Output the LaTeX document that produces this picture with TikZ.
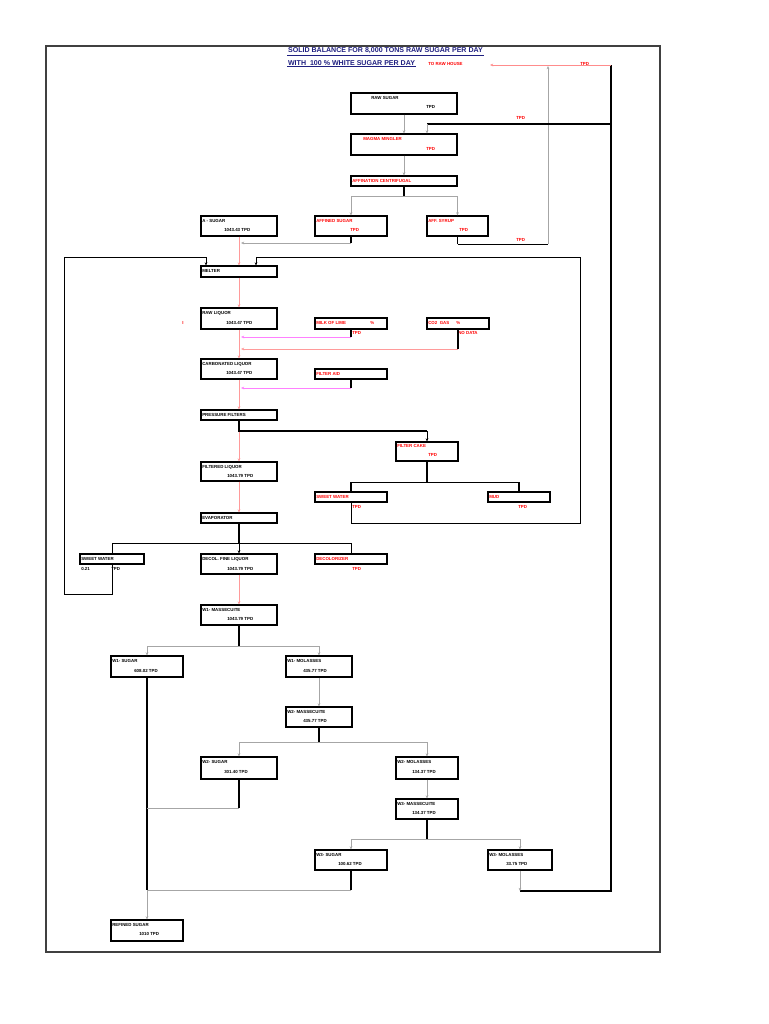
\documentclass[tikz,border=0pt]{standalone}
\usepackage{fontspec}
\setmainfont{Liberation Sans}
\usetikzlibrary{fit,arrows.meta}
\definecolor{navyt}{HTML}{1F1F80}
\definecolor{pinkl}{HTML}{FF9A9A}
\definecolor{magl}{HTML}{FF80FF}
\begin{document}
\begin{tikzpicture}[x=0.75pt,y=-0.75pt,
 box/.style={draw=black,line width=0.8pt,inner sep=0pt,fill=white},
 lbl/.style={font=\fontsize{3.3}{4}\selectfont\bfseries,inner sep=0pt,anchor=west},
 rlbl/.style={lbl,text=red},
 ttl/.style={font=\fontsize{5.3}{6}\selectfont\bfseries,text=navyt,inner sep=0.6pt,anchor=west},
 arr/.style={-{Stealth[length=2.4pt,width=2pt]}},
 gl/.style={draw=gray!70,line width=0.5pt},
 bl/.style={draw=black,line width=0.9pt},
 kl/.style={draw=black,line width=0.6pt},
 pl/.style={draw=pinkl,line width=0.6pt},
 ml/.style={draw=magl,line width=0.6pt}]
\useasboundingbox (0,0) rectangle (768,1024);
% frame
\draw[draw=black!75,line width=0.9pt] (46,46) rectangle (660,952);
% title
\node[ttl] (title1) at (287,51) {SOLID BALANCE FOR 8,000 TONS RAW SUGAR PER DAY};
\node[ttl] (title2) at (287,63) {WITH\ \ 100 \% WHITE SUGAR PER DAY};
\draw[navyt,line width=0.4pt] (title1.south west) -- (title1.south east);
\draw[navyt,line width=0.4pt] (title2.south west) -- (title2.south east);
\node[rlbl] (toraw) at (428,64) {TO RAW HOUSE};
\node[rlbl] (tpdtop) at (580,64) {TPD};
% boxes
\node[box,fit={(351,93)(457,114)}] (rawsugar) {};
\node[box,fit={(351,134)(457,155)}] (magma) {};
\node[box,fit={(351,176)(457,186)}] (affcent) {};
\node[box,fit={(201,216)(277,236)}] (asugar) {};
\node[box,fit={(315,216)(387,236)}] (affsugar) {};
\node[box,fit={(427,216)(488,236)}] (affsyrup) {};
\node[box,fit={(201,266)(277,277)}] (melter) {};
\node[box,fit={(201,308)(277,329)}] (rawliq) {};
\node[box,fit={(315,318)(387,329)}] (mol) {};
\node[box,fit={(427,318)(489,329)}] (co2) {};
\node[box,fit={(201,359)(277,379)}] (carbliq) {};
\node[box,fit={(315,369)(387,379)}] (filaid) {};
\node[box,fit={(201,410)(277,420)}] (pressf) {};
\node[box,fit={(396,442)(458,461)}] (fcake) {};
\node[box,fit={(201,462)(277,481)}] (filtliq) {};
\node[box,fit={(315,492)(387,502)}] (swater1) {};
\node[box,fit={(488,492)(550,502)}] (mud) {};
\node[box,fit={(201,513)(277,523)}] (evap) {};
\node[box,fit={(80,554)(144,564)}] (swater2) {};
\node[box,fit={(201,554)(277,574)}] (fineliq) {};
\node[box,fit={(315,554)(387,564)}] (decol) {};
\node[box,fit={(201,605)(277,625)}] (w1mass) {};
\node[box,fit={(111,656)(183,677)}] (w1sugar) {};
\node[box,fit={(286,656)(352,677)}] (w1mol) {};
\node[box,fit={(286,707)(352,727)}] (w2mass) {};
\node[box,fit={(201,757)(277,779)}] (w2sugar) {};
\node[box,fit={(396,757)(458,779)}] (w2mol) {};
\node[box,fit={(396,799)(458,819)}] (w3mass) {};
\node[box,fit={(315,850)(387,870)}] (w3sugar) {};
\node[box,fit={(488,850)(552,870)}] (w3mol) {};
\node[box,fit={(111,920)(183,941)}] (refined) {};
% labels
\node[lbl] (t1) at (371,98) {RAW SUGAR};
\node[lbl] (t2) at (426,107) {TPD};
\node[rlbl] (t3) at (363,139) {MAGMA MINGLER};
\node[rlbl] (t4) at (426,149) {TPD};
\node[rlbl] (t5) at (352,181) {AFFINATION CENTRIFUGAL};
\node[lbl] (t6) at (202,221) {A - SUGAR};
\node[lbl] (t7) at (224,230) {1043.43 TPD};
\node[rlbl] (t8) at (316,221) {AFFINED SUGAR};
\node[rlbl] (t9) at (350,230) {TPD};
\node[rlbl] (t10) at (428,221) {AFF. SYRUP};
\node[rlbl] (t11) at (459,230) {TPD};
\node[rlbl] (t12) at (516,240) {TPD};
\node[rlbl] (t13) at (516,118) {TPD};
\node[lbl] (t14) at (202,271) {MELTER};
\node[lbl] (t15) at (202,313) {RAW LIQUOR};
\node[lbl] (t16) at (226,323) {1043.47 TPD};
\node[rlbl] (t17) at (182,323) {I};
\node[rlbl] (t18) at (316,323) {MILK OF LIME};
\node[rlbl] (t19) at (370,323) {\%};
\node[rlbl] (t20) at (352,333) {TPD};
\node[rlbl] (t21) at (428,323) {CO2\ \ GAS};
\node[rlbl] (t22) at (456,323) {\%};
\node[rlbl] (t23) at (458,333) {NO DATA};
\node[lbl] (t24) at (202,364) {CARBONATED LIQUOR};
\node[lbl] (t25) at (226,373) {1043.47 TPD};
\node[rlbl] (t26) at (316,374) {FILTER AID};
\node[lbl] (t27) at (202,415) {PRESSURE FILTERS};
\node[rlbl] (t28) at (397,446) {FILTER CAKE};
\node[rlbl] (t29) at (428,455) {TPD};
\node[lbl] (t30) at (202,467) {FILTERED LIQUOR};
\node[lbl] (t31) at (227,476) {1043.79 TPD};
\node[rlbl] (t32) at (316,497) {SWEET WATER};
\node[rlbl] (t33) at (352,507) {TPD};
\node[rlbl] (t34) at (489,497) {MUD};
\node[rlbl] (t35) at (518,507) {TPD};
\node[lbl] (t36) at (202,518) {EVAPORATOR};
\node[lbl] (t37) at (81,559) {SWEET WATER};
\node[lbl] (t38) at (81,569) {0.21};
\node[lbl] (t39) at (111,569) {TPD};
\node[lbl] (t40) at (202,559) {DECOL. FINE LIQUOR};
\node[lbl] (t41) at (227,569) {1043.79 TPD};
\node[rlbl] (t42) at (316,559) {DECOLORIZER};
\node[rlbl] (t43) at (352,569) {TPD};
\node[lbl] (t44) at (202,610) {W1- MASSECUITE};
\node[lbl] (t45) at (227,619) {1043.79 TPD};
\node[lbl] (t46) at (112,661) {W1- SUGAR};
\node[lbl] (t47) at (134,671) {608.02 TPD};
\node[lbl] (t48) at (287,661) {W1- MOLASSES};
\node[lbl] (t49) at (303,671) {435.77 TPD};
\node[lbl] (t50) at (287,712) {W2- MASSECUITE};
\node[lbl] (t51) at (303,721) {435.77 TPD};
\node[lbl] (t52) at (202,762) {W2- SUGAR};
\node[lbl] (t53) at (224,772) {301.40 TPD};
\node[lbl] (t54) at (397,762) {W2- MOLASSES};
\node[lbl] (t55) at (412,772) {134.37 TPD};
\node[lbl] (t56) at (397,804) {W3- MASSECUITE};
\node[lbl] (t57) at (412,813) {134.37 TPD};
\node[lbl] (t58) at (316,855) {W3- SUGAR};
\node[lbl] (t59) at (338,864) {100.62 TPD};
\node[lbl] (t60) at (489,855) {W3- MOLASSES};
\node[lbl] (t61) at (506,864) {33.75 TPD};
\node[lbl] (t62) at (112,925) {REFINED SUGAR};
\node[lbl] (t63) at (139,934) {1010 TPD};
% ---- connectors ----
% raw sugar -> magma -> affination
\draw[gl,arr] (rawsugar.south) -- (magma.north);
\draw[gl,arr] (magma.south) -- (affcent.north);
\coordinate (ja) at (404,196);
\draw[bl] (affcent.south) -- (ja);
\draw[gl] (affsugar.north |- ja) -- (affsyrup.north |- ja);
\draw[gl,arr] (affsugar.north |- ja) -- (affsugar.north);
\draw[gl,arr] (affsyrup.north |- ja) -- (affsyrup.north);
% affined sugar to main line
\coordinate (jb) at (241,243);
\draw[bl] (affsugar.south) -- (affsugar.south |- jb);
\draw[gl,arr] (affsugar.south |- jb) -- (jb);
% aff syrup to raw house
\coordinate (jc) at (548,244);
\coordinate (jd) at (548,66);
\draw[bl] (affsyrup.south) -- (affsyrup.south |- jc);
\draw[kl] (affsyrup.south |- jc) -- (jc);
\draw[gl,arr] (jc) -- (jd);
% right return line
\coordinate (re1) at (611,891);
\coordinate (re2) at (611,124);
\coordinate (re3) at (611,65);
\coordinate (rh) at (490,65);
\coordinate (jm) at (427,124);
\draw[bl] (w3mol.south |- re1) -- (re1) -- (re3);
\draw[draw=red!45,line width=0.6pt,arr] (re3) -- (rh);
\draw[bl] (re2) -- (jm);
\draw[gl,arr] (jm) -- (jm |- magma.north);
% main pink line
\draw[pl,arr] (asugar.south) -- (melter.north);
\draw[pl,arr] (melter.south) -- (rawliq.north);
\draw[pl,arr] (rawliq.south) -- (carbliq.north);
\draw[pl,arr] (carbliq.south) -- (pressf.north);
\draw[pl,arr] (pressf.south) -- (filtliq.north);
\draw[pl,arr] (filtliq.south) -- (evap.north);
\draw[pl,arr] (fineliq.south) -- (w1mass.north);
% left loop (sweet water to melter)
\coordinate (l1) at (112,594);
\coordinate (l2) at (64,594);
\coordinate (l3) at (64,257);
\coordinate (l4) at (206,257);
\draw[kl] (swater2.south) -- (l1) -- (l2) -- (l3) -- (l4);
\draw[kl,arr] (l4) -- (l4 |- melter.north);
% right loop (sweet water from filter cake to melter)
\coordinate (r1) at (351,523);
\coordinate (r2) at (580,523);
\coordinate (r3) at (580,257);
\coordinate (r4) at (256,257);
\draw[kl] (swater1.south) -- (r1) -- (r2) -- (r3) -- (r4);
\draw[kl,arr] (r4) -- (r4 |- melter.north);
% lime, CO2, filter aid
\coordinate (jl) at (241,337);
\coordinate (jg) at (241,349);
\coordinate (jf) at (241,388);
\draw[bl] (mol.south) -- (mol.south |- jl);
\draw[ml,arr] (mol.south |- jl) -- (jl);
\draw[bl] (co2.south) -- (co2.south |- jg);
\draw[pl,arr] (co2.south |- jg) -- (jg);
\draw[bl] (filaid.south) -- (filaid.south |- jf);
\draw[ml,arr] (filaid.south |- jf) -- (jf);
% pressure filters to filter cake
\coordinate (jp) at (239,431);
\draw[bl] (pressf.south) -- (jp) -- (fcake.north |- jp);
\draw[kl,arr] (fcake.north |- jp) -- (fcake.north);
\coordinate (jk) at (427,482);
\draw[bl] (fcake.south) -- (jk);
\draw[kl] (swater1.north |- jk) -- (mud.north |- jk);
\draw[bl] (swater1.north |- jk) -- (swater1.north);
\draw[bl] (mud.north |- jk) -- (mud.north);
% evaporator split
\coordinate (je) at (239,543);
\draw[bl] (evap.south) -- (je);
\draw[kl] (swater2.north |- je) -- (decol.north |- je);
\draw[kl] (swater2.north |- je) -- (swater2.north);
\draw[kl] (decol.north |- je) -- (decol.north);
\draw[kl,arr] (je) -- (fineliq.north);
% W1 split
\coordinate (jw1) at (239,646);
\draw[bl] (w1mass.south) -- (jw1);
\draw[gl] (w1sugar.north |- jw1) -- (w1mol.north |- jw1);
\draw[gl,arr] (w1sugar.north |- jw1) -- (w1sugar.north);
\draw[gl,arr] (w1mol.north |- jw1) -- (w1mol.north);
\draw[gl,arr] (w1mol.south) -- (w2mass.north);
% W2 split
\coordinate (jw2) at (319,742);
\draw[bl] (w2mass.south) -- (jw2);
\draw[gl] (w2sugar.north |- jw2) -- (w2mol.north |- jw2);
\draw[gl,arr] (w2sugar.north |- jw2) -- (w2sugar.north);
\draw[gl,arr] (w2mol.north |- jw2) -- (w2mol.north);
\draw[gl,arr] (w2mol.south) -- (w3mass.north);
% W3 split
\coordinate (jw3) at (427,839);
\draw[bl] (w3mass.south) -- (jw3);
\draw[gl] (w3sugar.north |- jw3) -- (w3mol.north |- jw3);
\draw[gl,arr] (w3sugar.north |- jw3) -- (w3sugar.north);
\draw[gl,arr] (w3mol.north |- jw3) -- (w3mol.north);
% sugars to refined sugar
\coordinate (js) at (147,890);
\coordinate (js2) at (147,808);
\draw[bl] (w1sugar.south) -- (js);
\draw[bl] (w2sugar.south) -- (w2sugar.south |- js2);
\draw[gl] (w2sugar.south |- js2) -- (js2);
\draw[bl] (w3sugar.south) -- (w3sugar.south |- js);
\draw[gl] (w3sugar.south |- js) -- (js);
\draw[gl,arr] (js) -- (refined.north);
% W3 molasses to return
\draw[gl,arr] (w3mol.south) -- (w3mol.south |- re1);
\end{tikzpicture}
\end{document}
